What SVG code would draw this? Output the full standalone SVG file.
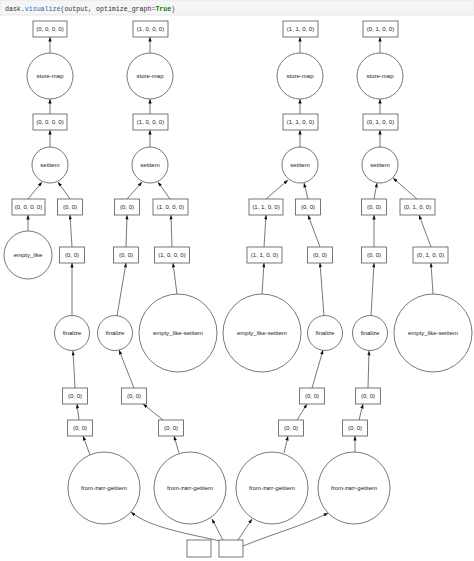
<svg xmlns="http://www.w3.org/2000/svg" width="474" height="561" viewBox="0 0 474 561">
<defs>
<marker id="ah" viewBox="0 0 8 6" refX="8" refY="3" markerWidth="4.5" markerHeight="3.4" markerUnits="userSpaceOnUse" orient="auto">
<path d="M0,0 L8,3 L0,6 z" fill="#111"/>
</marker>
<style>
.n{fill:#fff;stroke:#555;stroke-width:0.8}
.t{font-family:"Liberation Sans",Arial,sans-serif;font-size:6px;fill:#222;text-anchor:middle;dominant-baseline:central}
.e{fill:none;stroke:#555;stroke-width:0.8;marker-end:url(#ah)}
.code{font-family:"Liberation Mono","DejaVu Sans Mono",monospace;font-size:6.6px;fill:#333}
</style>
</defs>
<rect width="474" height="561" fill="#fff"/>
<g id="codebar">
<rect x="0" y="0" width="474" height="15" fill="#f5f5f5" stroke="#e2e2e2" stroke-width="0.8"/>
<text class="code" x="5" y="11">dask.<tspan fill="#2a6cb0">visualize</tspan>(output, optimize_graph<tspan fill="#aa22ff">=</tspan><tspan fill="#008000" font-weight="bold">True</tspan>)</text>
</g>
<g id="edges">
<!-- column 1 -->
<path class="e" d="M50,53 L50,37"/>
<path class="e" d="M50,114 L50,99"/>
<path class="e" d="M50,147 L50,130"/>
<path class="e" d="M28,199 L42,182"/>
<path class="e" d="M70,199 L58,182"/>
<path class="e" d="M28,231 L28,215"/>
<path class="e" d="M72,247 L70,215"/>
<path class="e" d="M72,315.5 L72,263"/>
<path class="e" d="M75,388 L73,351"/>
<path class="e" d="M79,420 L77,404"/>
<path class="e" d="M90,455 L83,436"/>
<!-- column 2 -->
<path class="e" d="M150,53 L150,37"/>
<path class="e" d="M150,114 L150,99"/>
<path class="e" d="M150,147 L150,130"/>
<path class="e" d="M127,199 L142,182"/>
<path class="e" d="M170,199 L158,182"/>
<path class="e" d="M126,247 L127,215"/>
<path class="e" d="M172,247 L171,215"/>
<path class="e" d="M117,316 L126,263"/>
<path class="e" d="M177,294 L173,263"/>
<path class="e" d="M134,388 L119,350"/>
<path class="e" d="M163,420 L143,404"/>
<path class="e" d="M179,453 L174,436"/>
<!-- column 3 -->
<path class="e" d="M300,53 L300,37"/>
<path class="e" d="M300,114 L300,99"/>
<path class="e" d="M300,147 L300,130"/>
<path class="e" d="M266,199 L288,180"/>
<path class="e" d="M308,199 L304,183"/>
<path class="e" d="M264,247 L266,215"/>
<path class="e" d="M320,247 L308,215"/>
<path class="e" d="M262,294 L264,263"/>
<path class="e" d="M324,316 L320,263"/>
<path class="e" d="M312,388 L323,350"/>
<path class="e" d="M297,420 L307,404"/>
<path class="e" d="M284,453 L288,436"/>
<!-- column 4 -->
<path class="e" d="M380,53 L380,37"/>
<path class="e" d="M380,114 L380,99"/>
<path class="e" d="M380,147 L380,130"/>
<path class="e" d="M374,199 L377,183"/>
<path class="e" d="M417,199 L393,178"/>
<path class="e" d="M374,247 L374,215"/>
<path class="e" d="M431,247 L419,215"/>
<path class="e" d="M371,316 L374,263"/>
<path class="e" d="M433,294 L431,263"/>
<path class="e" d="M368,388 L369,351"/>
<path class="e" d="M359,420 L363,404"/>
<path class="e" d="M355,452 L355,436"/>
<!-- bottom source -->
<path class="e" d="M220,541 C190,534 150,528 131,512"/>
<path class="e" d="M223,540 L212,519"/>
<path class="e" d="M238,540 L252,519"/>
<path class="e" d="M243,546 C275,533 305,525 328,513"/>
</g>
<!-- column 1 nodes -->
<g id="out-0000"><rect class="n" x="33" y="21" width="34" height="16"/><text class="t" x="50" y="29">(0, 0, 0, 0)</text></g>
<g id="storemap-1"><circle class="n" cx="50" cy="76" r="23"/><text class="t" x="50" y="76">store-map</text></g>
<g id="key-0000-a"><rect class="n" x="33" y="114" width="34" height="16"/><text class="t" x="50" y="122">(0, 0, 0, 0)</text></g>
<g id="setitem-1"><circle class="n" cx="50" cy="165" r="18"/><text class="t" x="50" y="165">setitem</text></g>
<g id="key-0000-b"><rect class="n" x="12" y="199" width="33" height="16"/><text class="t" x="28.5" y="207">(0, 0, 0, 0)</text></g>
<g id="key-00-1a"><rect class="n" x="57.5" y="199" width="25" height="16"/><text class="t" x="70" y="207">(0, 0)</text></g>
<g id="emptylike"><circle class="n" cx="28" cy="255" r="24"/><text class="t" x="28" y="255">empty_like</text></g>
<g id="key-00-1b"><rect class="n" x="59.5" y="247" width="25" height="16"/><text class="t" x="72" y="255">(0, 0)</text></g>
<g id="finalize-1"><circle class="n" cx="72" cy="333" r="17.5"/><text class="t" x="72" y="333">finalize</text></g>
<g id="key-00-1c"><rect class="n" x="62.5" y="388" width="25" height="16"/><text class="t" x="75" y="396">(0, 0)</text></g>
<g id="key-00-1d"><rect class="n" x="67.5" y="420" width="25" height="16"/><text class="t" x="80" y="428">(0, 0)</text></g>
<g id="fromzarr-1"><circle class="n" cx="104" cy="488" r="36"/><text class="t" x="104" y="488">from-zarr-getitem</text></g>
<!-- column 2 nodes -->
<g id="out-1000"><rect class="n" x="133" y="21" width="35" height="16"/><text class="t" x="150.5" y="29">(1, 0, 0, 0)</text></g>
<g id="storemap-2"><circle class="n" cx="150" cy="76" r="23"/><text class="t" x="150" y="76">store-map</text></g>
<g id="key-1000-a"><rect class="n" x="133" y="114" width="35" height="16"/><text class="t" x="150.5" y="122">(1, 0, 0, 0)</text></g>
<g id="setitem-2"><circle class="n" cx="150" cy="165" r="18"/><text class="t" x="150" y="165">setitem</text></g>
<g id="key-00-2a"><rect class="n" x="114.5" y="199" width="25" height="16"/><text class="t" x="127" y="207">(0, 0)</text></g>
<g id="key-1000-b"><rect class="n" x="153" y="199" width="35" height="16"/><text class="t" x="170.5" y="207">(1, 0, 0, 0)</text></g>
<g id="key-00-2b"><rect class="n" x="113.5" y="247" width="25" height="16"/><text class="t" x="126" y="255">(0, 0)</text></g>
<g id="key-1000-c"><rect class="n" x="154.5" y="247" width="35" height="16"/><text class="t" x="172" y="255">(1, 0, 0, 0)</text></g>
<g id="finalize-2"><circle class="n" cx="115" cy="333" r="17.5"/><text class="t" x="115" y="333">finalize</text></g>
<g id="emptylike-setitem-2"><circle class="n" cx="178" cy="333" r="39"/><text class="t" x="178" y="333">empty_like-setitem</text></g>
<g id="key-00-2c"><rect class="n" x="121.5" y="388" width="25" height="16"/><text class="t" x="134" y="396">(0, 0)</text></g>
<g id="key-00-2d"><rect class="n" x="158.5" y="420" width="25" height="16"/><text class="t" x="171" y="428">(0, 0)</text></g>
<g id="fromzarr-2"><circle class="n" cx="190" cy="488" r="36"/><text class="t" x="190" y="488">from-zarr-getitem</text></g>
<!-- column 3 nodes -->
<g id="out-1100"><rect class="n" x="283" y="21" width="35" height="16"/><text class="t" x="300.5" y="29">(1, 1, 0, 0)</text></g>
<g id="storemap-3"><circle class="n" cx="300" cy="76" r="23"/><text class="t" x="300" y="76">store-map</text></g>
<g id="key-1100-a"><rect class="n" x="283" y="114" width="35" height="16"/><text class="t" x="300.5" y="122">(1, 1, 0, 0)</text></g>
<g id="setitem-3"><circle class="n" cx="300" cy="165" r="18"/><text class="t" x="300" y="165">setitem</text></g>
<g id="key-1100-b"><rect class="n" x="249" y="199" width="34" height="16"/><text class="t" x="266" y="207">(1, 1, 0, 0)</text></g>
<g id="key-00-3a"><rect class="n" x="295.5" y="199" width="25" height="16"/><text class="t" x="308" y="207">(0, 0)</text></g>
<g id="key-1100-c"><rect class="n" x="247" y="247" width="35" height="16"/><text class="t" x="264.5" y="255">(1, 1, 0, 0)</text></g>
<g id="key-00-3b"><rect class="n" x="307.5" y="247" width="25" height="16"/><text class="t" x="320" y="255">(0, 0)</text></g>
<g id="emptylike-setitem-3"><circle class="n" cx="262" cy="333" r="39"/><text class="t" x="262" y="333">empty_like-setitem</text></g>
<g id="finalize-3"><circle class="n" cx="325" cy="333" r="17.5"/><text class="t" x="325" y="333">finalize</text></g>
<g id="key-00-3c"><rect class="n" x="299.5" y="388" width="25" height="16"/><text class="t" x="312" y="396">(0, 0)</text></g>
<g id="key-00-3d"><rect class="n" x="278.5" y="420" width="25" height="16"/><text class="t" x="291" y="428">(0, 0)</text></g>
<g id="fromzarr-3"><circle class="n" cx="272" cy="488" r="36"/><text class="t" x="272" y="488">from-zarr-getitem</text></g>
<!-- column 4 nodes -->
<g id="out-0100"><rect class="n" x="363" y="21" width="35" height="16"/><text class="t" x="380.5" y="29">(0, 1, 0, 0)</text></g>
<g id="storemap-4"><circle class="n" cx="380" cy="76" r="23"/><text class="t" x="380" y="76">store-map</text></g>
<g id="key-0100-a"><rect class="n" x="363" y="114" width="35" height="16"/><text class="t" x="380.5" y="122">(0, 1, 0, 0)</text></g>
<g id="setitem-4"><circle class="n" cx="380" cy="165" r="18"/><text class="t" x="380" y="165">setitem</text></g>
<g id="key-00-4a"><rect class="n" x="361.5" y="199" width="25" height="16"/><text class="t" x="374" y="207">(0, 0)</text></g>
<g id="key-0100-b"><rect class="n" x="400" y="199" width="35" height="16"/><text class="t" x="417.5" y="207">(0, 1, 0, 0)</text></g>
<g id="key-00-4b"><rect class="n" x="361.5" y="247" width="25" height="16"/><text class="t" x="374" y="255">(0, 0)</text></g>
<g id="key-0100-c"><rect class="n" x="413" y="247" width="35" height="16"/><text class="t" x="430.5" y="255">(0, 1, 0, 0)</text></g>
<g id="finalize-4"><circle class="n" cx="370" cy="333" r="17.5"/><text class="t" x="370" y="333">finalize</text></g>
<g id="emptylike-setitem-4"><circle class="n" cx="433" cy="333" r="39"/><text class="t" x="433" y="333">empty_like-setitem</text></g>
<g id="key-00-4c"><rect class="n" x="355.5" y="388" width="25" height="16"/><text class="t" x="368" y="396">(0, 0)</text></g>
<g id="key-00-4d"><rect class="n" x="342.5" y="420" width="25" height="16"/><text class="t" x="355" y="428">(0, 0)</text></g>
<g id="fromzarr-4"><circle class="n" cx="354" cy="488" r="36"/><text class="t" x="354" y="488">from-zarr-getitem</text></g>
<!-- bottom boxes -->
<g id="src-a"><rect class="n" x="187" y="540" width="24" height="17"/></g>
<g id="src-b"><rect class="n" x="219" y="540" width="24" height="17"/></g>
</svg>
